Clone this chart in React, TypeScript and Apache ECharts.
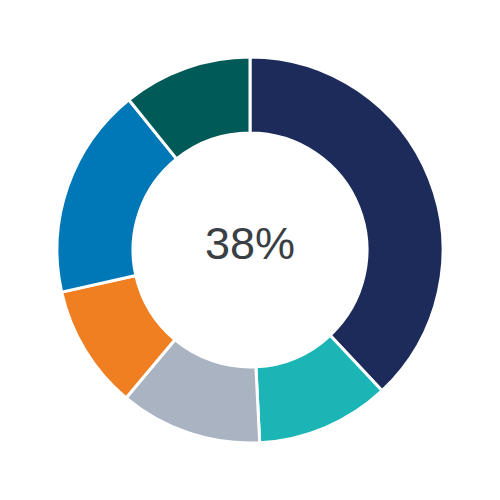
import React, { useEffect, useRef } from "react";
import * as echarts from "echarts";

const segmentNames = ["A", "B", "C", "D", "E", "F"];
const segmentValues = [38, 11.2, 11.9, 10.4, 17.7, 10.8];
const segmentColors = ["#1c2b5a", "#1bb5b6", "#a9b3c1", "#f07f22", "#0077b6", "#005a57"];
const centerLabel = "38%";

const App: React.FC = () => {
  const chartRef = useRef<HTMLDivElement>(null);

  useEffect(() => {
    if (!chartRef.current) return;
    const chart = echarts.init(chartRef.current, null, { renderer: "svg" });

    const data = segmentNames.map((name, i) => ({
      name,
      value: segmentValues[i],
      itemStyle: { color: segmentColors[i] },
    }));

    chart.setOption({
      animation: false,
      backgroundColor: "#ffffff",
      title: {
        text: centerLabel,
        left: "center",
        top: 216,
        textStyle: {
          fontFamily: "Liberation Sans",
          fontSize: 45,
          fontWeight: "normal",
          color: "#3a3f44",
        },
      },
      series: [
        {
          type: "pie",
          center: [250, 250],
          radius: [117, 193],
          startAngle: 90,
          clockwise: true,
          label: { show: false },
          labelLine: { show: false },
          itemStyle: { borderColor: "#ffffff", borderWidth: 3 },
          emphasis: { disabled: true },
          data,
        },
      ],
    });

    return () => {
      chart.dispose();
    };
  }, []);

  return (
    <div
      ref={chartRef}
      style={{ position: "fixed", left: 0, top: 0, width: "500px", height: "500px" }}
    />
  );
};

export default App;
